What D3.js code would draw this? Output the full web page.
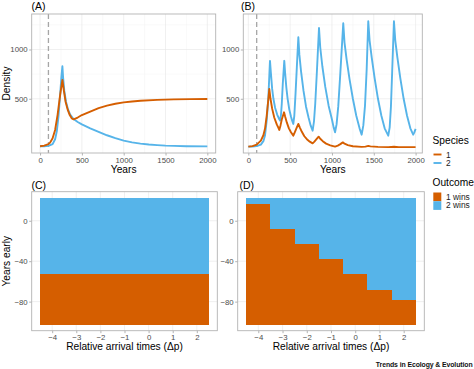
<!DOCTYPE html>
<html>
<head>
<meta charset="utf-8">
<script src="https://cdn.jsdelivr.net/npm/d3@7"></script>
<style>
  body { margin: 0; background: #fff; }
  svg { display: block; font-family: "Liberation Sans", Arial, Helvetica, sans-serif; }
</style>
</head>
<body>
<svg id="chart" width="474" height="369"></svg>
<script>
// ---------------- DATA ----------------
// Panel A: densities over time [year, density]
const A_sp1 = [[0,18],[50,25],[100,40],[120,55],[150,100],[180,184],[210,340],[240,540],[267,690],[285,580],[305,470],[330,390],[355,335],[380,300],[400,292],[450,310],[500,335],[600,370],[700,405],[800,430],[900,450],[1000,463],[1100,473],[1200,480],[1400,489],[1600,494],[1800,497],[2000,498]];
const A_sp2 = [[0,18],[50,19],[100,22],[150,40],[180,90],[200,170],[220,320],[240,540],[255,720],[267,830],[275,720],[290,580],[310,470],[335,390],[360,340],[400,295],[450,265],[500,240],[600,200],[700,165],[800,130],[900,100],[1000,75],[1100,58],[1200,45],[1300,36],[1400,30],[1500,25],[1600,22],[1750,19],[2000,17]];
// Panel B
const B_sp1 = [[0,15],[50,20],[100,35],[150,75],[180,130],[200,200],[220,330],[240,500],[251,599],[265,500],[285,400],[310,310],[340,240],[360,205],[370,184],[385,230],[400,290],[427,363],[440,320],[460,260],[485,200],[510,160],[538,126],[555,160],[575,200],[598,245],[615,210],[640,165],[670,120],[700,90],[735,65],[769,48],[790,65],[815,90],[841,116],[860,95],[890,70],[930,45],[980,28],[1037,15],[1070,25],[1100,40],[1130,58],[1150,45],[1190,30],[1250,18],[1355,12],[1400,15],[1434,22],[1460,17],[1550,12],[1673,10],[1741,13],[1800,10],[2000,10]];
const B_sp2 = [[0,15],[50,16],[100,20],[150,35],[180,70],[200,130],[220,280],[240,520],[259,885],[270,760],[285,600],[300,500],[320,410],[345,340],[365,300],[379,280],[390,330],[400,450],[412,650],[430,885],[440,760],[455,610],[470,500],[490,390],[510,320],[525,275],[538,245],[550,330],[565,560],[580,820],[598,1124],[610,950],[630,780],[660,580],[690,420],[720,310],[745,230],[769,176],[785,270],[800,450],[820,780],[845,1218],[860,1020],[885,830],[920,620],[960,430],[1000,290],[1020,210],[1037,160],[1055,240],[1075,420],[1100,760],[1135,1266],[1150,1070],[1175,900],[1210,700],[1250,500],[1290,330],[1330,200],[1355,136],[1375,230],[1395,430],[1415,800],[1434,1286],[1450,1090],[1475,920],[1510,710],[1550,500],[1590,330],[1630,200],[1673,126],[1690,210],[1705,420],[1720,780],[1741,1286],[1757,1090],[1782,920],[1817,710],[1857,500],[1897,330],[1937,200],[1971,136],[1985,160],[2000,194]];
const introYear = 100;
const timeTicks = [0, 500, 1000, 1500, 2000];
const densityTicks = [500, 1000];

// Panels C & D: outcome grids
const arrivalTimes = [-4, -3, -2, -1, 0, 1, 2];
const yearsEarly = [-100,-95,-90,-85,-80,-75,-70,-65,-60,-55,-50,-45,-40,-35,-30,-25,-20,-15,-10,-5,0,5,10,15,20];
// species 1 wins when years early <= threshold (per arrival time)
const C_threshold = [-55, -55, -55, -55, -55, -55, -55];
const D_threshold = [15, -10, -25, -40, -55, -70, -80];
const arrivalTicks = [-4, -3, -2, -1, 0, 1, 2];
const earlyTicks = [0, -40, -80];

const speciesNames = ["1", "2"];
const outcomeNames = ["1 wins", "2 wins"];
const colors = { s1: "#D55E00", s2: "#56B4E9" };

// ---------------- DRAWING ----------------
const svg = d3.select("#chart");
const GRID = "#e6e6e6", MINOR = "#f2f2f2", BORDER = "#b3b3b3", TICKTXT = "#4d4d4d";
const tickFont = 7.8, titleFont = 10.2;

function linePanel(box, xDomain, s1, s2, label, showYTitle) {
  const x = d3.scaleLinear().domain(xDomain).range([box.x0, box.x1]);
  const y = d3.scaleLinear().domain([-50, 1360]).range([box.y1, box.y0]);
  const g = svg.append("g");
  [250, 750, 1250, 1750].forEach(v => g.append("line").attr("x1", x(v)).attr("x2", x(v)).attr("y1", box.y0).attr("y2", box.y1).attr("stroke", MINOR).attr("stroke-width", 0.5));
  [750, 1250].forEach(v => g.append("line").attr("x1", box.x0).attr("x2", box.x1).attr("y1", y(v)).attr("y2", y(v)).attr("stroke", MINOR).attr("stroke-width", 0.5));
  timeTicks.forEach(v => g.append("line").attr("x1", x(v)).attr("x2", x(v)).attr("y1", box.y0).attr("y2", box.y1).attr("stroke", GRID).attr("stroke-width", 0.6));
  densityTicks.forEach(v => g.append("line").attr("x1", box.x0).attr("x2", box.x1).attr("y1", y(v)).attr("y2", y(v)).attr("stroke", GRID).attr("stroke-width", 0.6));
  g.append("line").attr("x1", x(introYear)).attr("x2", x(introYear)).attr("y1", box.y0).attr("y2", box.y1)
    .attr("stroke", "#a6a6a6").attr("stroke-width", 1.3).attr("stroke-dasharray", "5,3");
  const line = d3.line().x(d => x(d[0])).y(d => y(d[1]));
  g.append("path").datum(s2).attr("d", line).attr("fill", "none").attr("stroke", colors.s2).attr("stroke-width", 1.9).attr("stroke-linejoin", "round");
  g.append("path").datum(s1).attr("d", line).attr("fill", "none").attr("stroke", colors.s1).attr("stroke-width", 1.9).attr("stroke-linejoin", "round");
  g.append("rect").attr("x", box.x0).attr("y", box.y0).attr("width", box.x1 - box.x0).attr("height", box.y1 - box.y0)
    .attr("fill", "none").attr("stroke", BORDER).attr("stroke-width", 0.9);
  const xa = g.append("g").attr("transform", `translate(0,${box.y1})`)
    .call(d3.axisBottom(x).tickValues(timeTicks).tickSize(2.5).tickPadding(1.5).tickFormat(d3.format("d")));
  const ya = g.append("g").attr("transform", `translate(${box.x0},0)`)
    .call(d3.axisLeft(y).tickValues(densityTicks).tickSize(2.5).tickPadding(1.5).tickFormat(d3.format("d")));
  [xa, ya].forEach(a => {
    a.select(".domain").remove();
    a.selectAll(".tick line").attr("stroke", BORDER);
    a.selectAll(".tick text").attr("fill", TICKTXT).style("font-size", tickFont + "px").style("font-family", "inherit");
  });
  g.append("text").attr("x", (box.x0 + box.x1) / 2).attr("y", box.y1 + 19.5).attr("text-anchor", "middle")
    .style("font-size", titleFont + "px").attr("fill", "#000").text("Years");
  if (showYTitle) {
    g.append("text").attr("transform", `translate(9.5,${(box.y0 + box.y1) / 2}) rotate(-90)`).attr("text-anchor", "middle")
      .style("font-size", titleFont + "px").attr("fill", "#000").text("Density");
  }
  g.append("text").attr("x", label.x).attr("y", 10).style("font-size", "10.5px").attr("fill", "#000").text(label.t);
}

function tilePanel(box, threshold, label, showYTitle) {
  const x = d3.scaleLinear().domain([-4.85, 2.85]).range([box.x0, box.x1]);
  const y = d3.scaleLinear().domain([-108.75, 28.75]).range([box.y1, box.y0]);
  const g = svg.append("g");
  arrivalTicks.forEach(v => g.append("line").attr("x1", x(v)).attr("x2", x(v)).attr("y1", box.y0).attr("y2", box.y1).attr("stroke", GRID).attr("stroke-width", 0.6));
  earlyTicks.forEach(v => g.append("line").attr("x1", box.x0).attr("x2", box.x1).attr("y1", y(v)).attr("y2", y(v)).attr("stroke", GRID).attr("stroke-width", 0.6));
  const cells = [];
  arrivalTimes.forEach((a, i) => yearsEarly.forEach(ye => cells.push({ a, ye, win: ye <= threshold[i] ? 1 : 2 })));
  g.append("g").attr("shape-rendering", "crispEdges").selectAll("rect").data(cells).join("rect")
    .attr("x", d => x(d.a - 0.5)).attr("width", d => x(d.a + 0.5) - x(d.a - 0.5) + 0.5)
    .attr("y", d => y(d.ye + 2.5)).attr("height", d => y(d.ye - 2.5) - y(d.ye + 2.5) + 0.5)
    .attr("fill", d => d.win === 1 ? colors.s1 : colors.s2);
  g.append("rect").attr("x", box.x0).attr("y", box.y0).attr("width", box.x1 - box.x0).attr("height", box.y1 - box.y0)
    .attr("fill", "none").attr("stroke", BORDER).attr("stroke-width", 0.9);
  const xa = g.append("g").attr("transform", `translate(0,${box.y1})`)
    .call(d3.axisBottom(x).tickValues(arrivalTicks).tickSize(2.5).tickPadding(1.5).tickFormat(d3.format("d")));
  const ya = g.append("g").attr("transform", `translate(${box.x0},0)`)
    .call(d3.axisLeft(y).tickValues(earlyTicks).tickSize(2.5).tickPadding(1.5).tickFormat(d3.format("d")));
  [xa, ya].forEach(a => {
    a.select(".domain").remove();
    a.selectAll(".tick line").attr("stroke", BORDER);
    a.selectAll(".tick text").attr("fill", TICKTXT).style("font-size", tickFont + "px").style("font-family", "inherit");
  });
  g.append("text").attr("x", (box.x0 + box.x1) / 2).attr("y", box.y1 + 19.5).attr("text-anchor", "middle")
    .style("font-size", titleFont + "px").attr("fill", "#000").text("Relative arrival times (Δp)");
  if (showYTitle) {
    g.append("text").attr("transform", `translate(9.5,${(box.y0 + box.y1) / 2}) rotate(-90)`).attr("text-anchor", "middle")
      .style("font-size", titleFont + "px").attr("fill", "#000").text("Years early");
  }
  g.append("text").attr("x", label.x).attr("y", 188.5).style("font-size", "10.5px").attr("fill", "#000").text(label.t);
}

linePanel({ x0: 31.7, x1: 215.7, y0: 14, y1: 153 }, [-100, 2100], A_sp1, A_sp2, { x: 31.5, t: "(A)" }, true);
linePanel({ x0: 243.3, x1: 422.3, y0: 14, y1: 153 }, [-60, 2080], B_sp1, B_sp2, { x: 241, t: "(B)" }, false);
tilePanel({ x0: 31.7, x1: 217.3, y0: 191.7, y1: 330.7 }, C_threshold, { x: 31.5, t: "(C)" }, true);
tilePanel({ x0: 237.7, x1: 424.3, y0: 191.7, y1: 330.7 }, D_threshold, { x: 239.5, t: "(D)" }, false);

// Legends
const lg = svg.append("g");
lg.append("text").attr("x", 432.5).attr("y", 143.5).style("font-size", titleFont + "px").text("Species");
speciesNames.forEach((n, i) => {
  const yy = 154.5 + i * 8.5;
  lg.append("line").attr("x1", 433.5).attr("x2", 441.5).attr("y1", yy).attr("y2", yy)
    .attr("stroke", i === 0 ? colors.s1 : colors.s2).attr("stroke-width", 1.9);
  lg.append("text").attr("x", 446).attr("y", yy + 3).style("font-size", "8.4px").attr("fill", "#1a1a1a").text(n);
});
lg.append("text").attr("x", 432.5).attr("y", 185.5).style("font-size", titleFont + "px").text("Outcome");
outcomeNames.forEach((n, i) => {
  const y0 = 192.5 + i * 8.7;
  lg.append("rect").attr("x", 433.3).attr("y", y0).attr("width", 8).attr("height", 8.7)
    .attr("fill", i === 0 ? colors.s1 : colors.s2);
  lg.append("text").attr("x", 446).attr("y", y0 + 7).style("font-size", "8.4px").attr("fill", "#1a1a1a").text(n);
});

// Journal credit
svg.append("text").attr("x", 472.5).attr("y", 366.5).attr("text-anchor", "end")
  .style("font-size", "6.9px").style("font-weight", "bold").style("letter-spacing", "-0.1px").attr("fill", "#111")
  .text("Trends in Ecology & Evolution");
</script>
</body>
</html>
